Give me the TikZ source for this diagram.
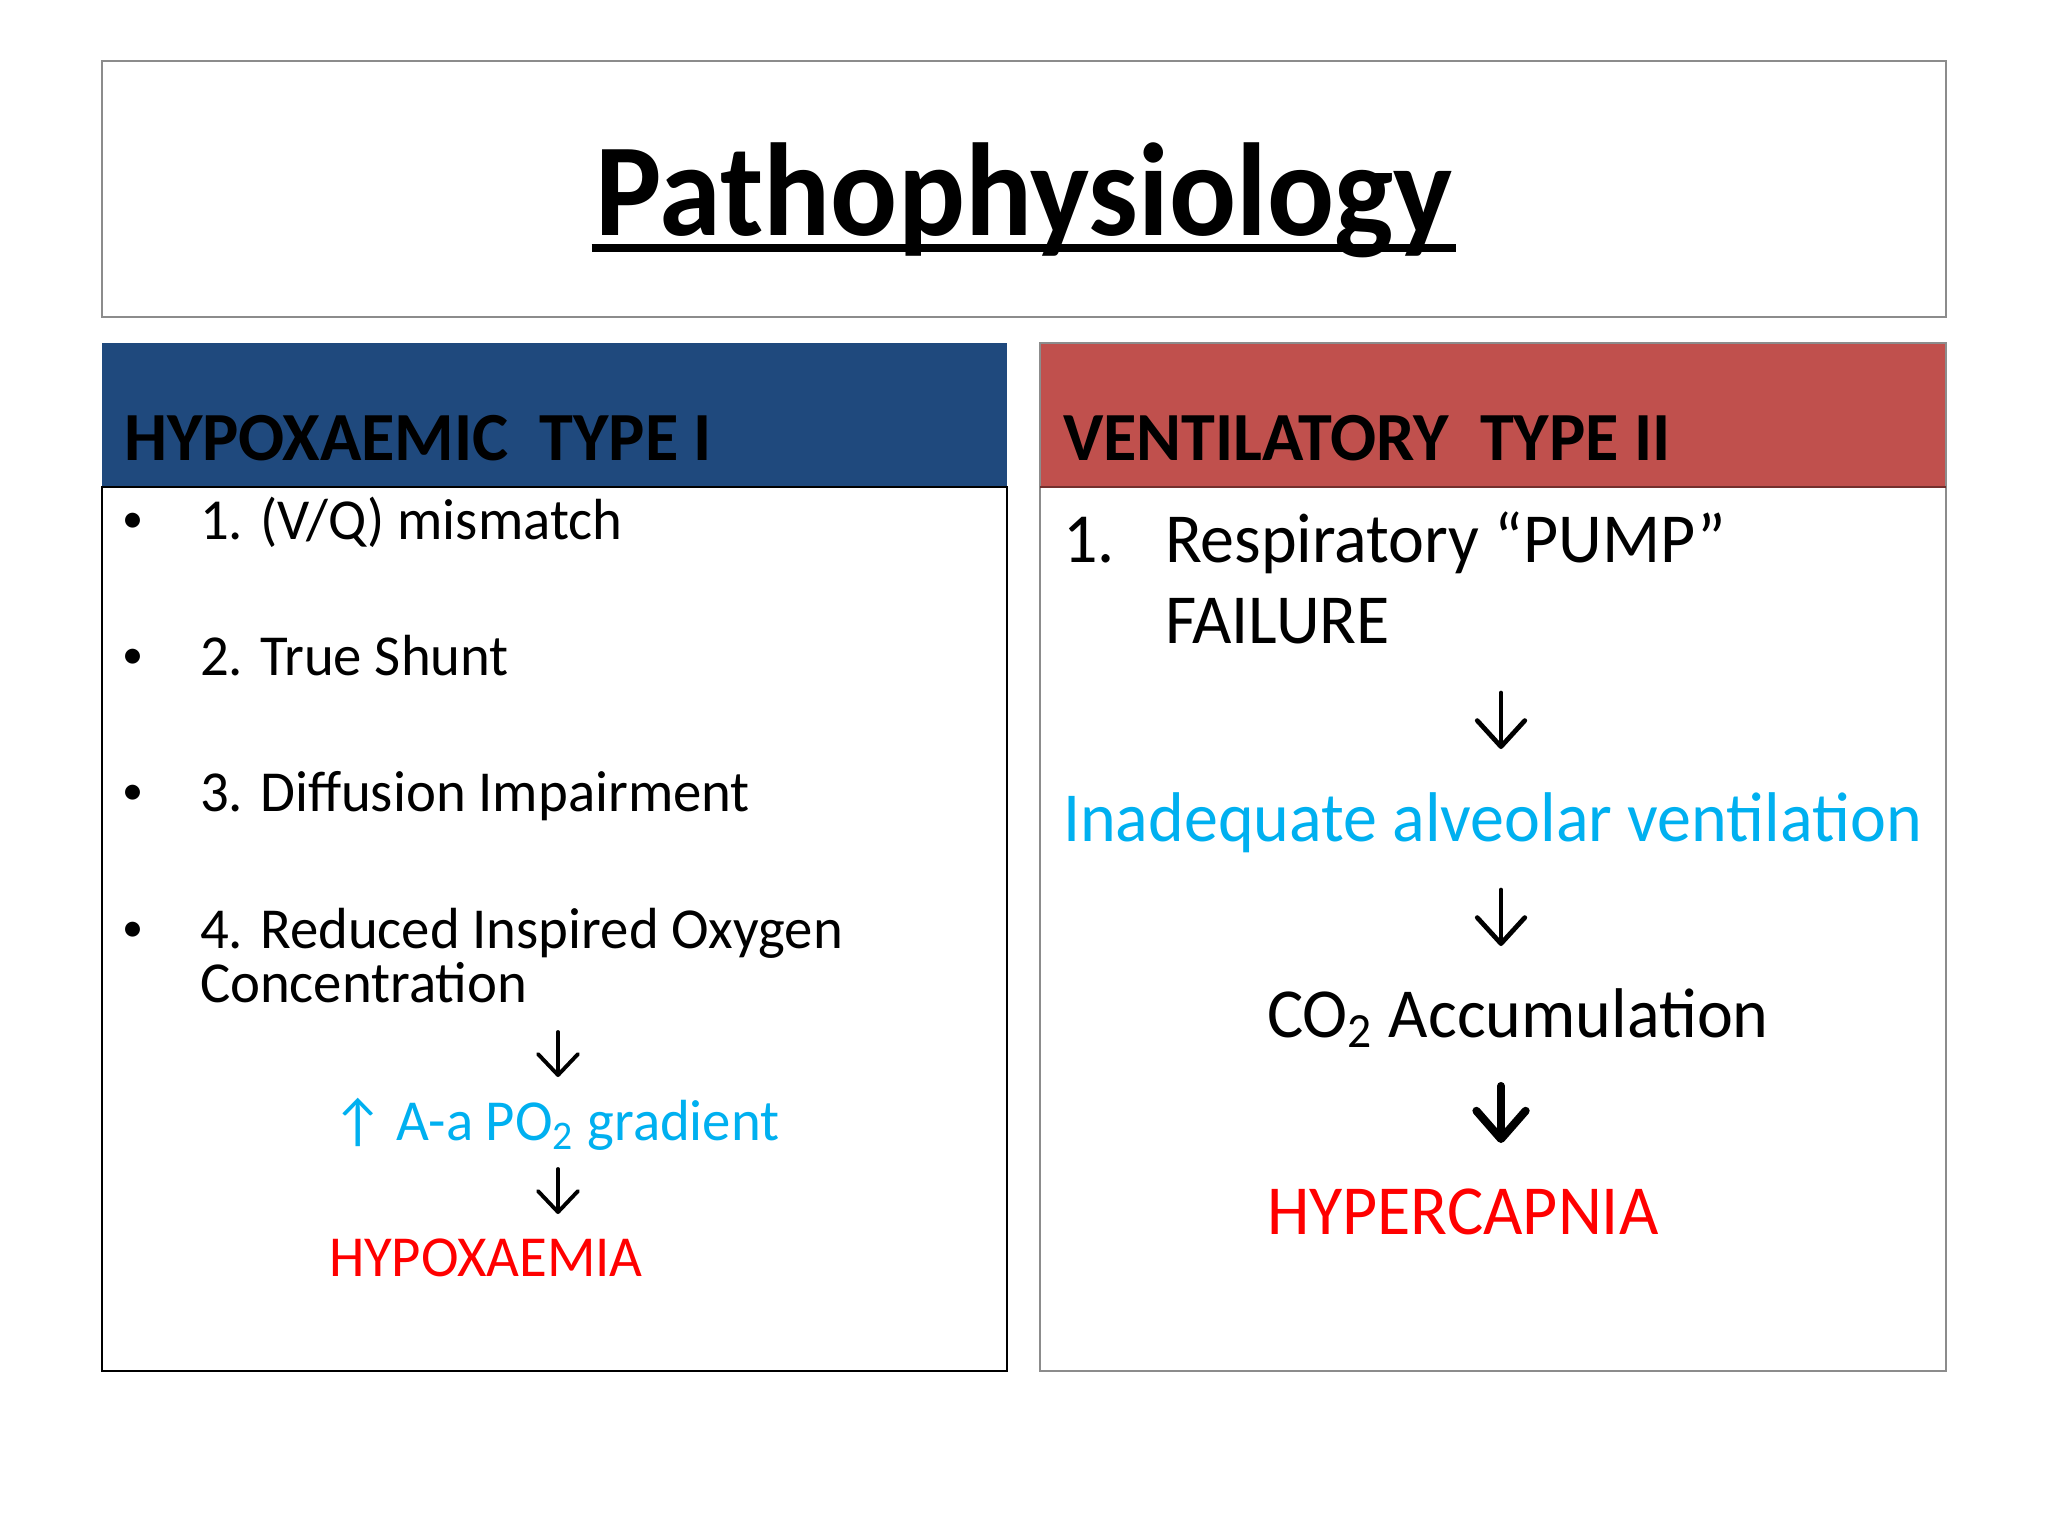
\documentclass[tikz,border=0pt]{standalone}
\usepackage{fontspec}
\setmainfont{Carlito}
\newfontfamily\titleF[FakeStretch=0.945]{Carlito}
\newfontfamily\hdrF[FakeStretch=0.99]{Carlito}
\newfontfamily\bodyL[FakeStretch=0.978]{Carlito}
\newfontfamily\bodyR[FakeStretch=0.967]{Carlito}
\usetikzlibrary{arrows.meta}
\definecolor{hdrblue}{HTML}{1F497D}
\definecolor{hdrred}{HTML}{C0504D}
\definecolor{cyantext}{HTML}{00B0F0}
\definecolor{redtext}{HTML}{FF0000}
\definecolor{boxgray}{HTML}{8C8C8C}
\begin{document}
\begin{tikzpicture}[x=0.01cm,y=-0.01cm,
  txt/.style={anchor=base west,inner sep=0pt,outer sep=0pt},
  lbody/.style={txt,font=\bodyL\fontsize{16.5}{19}\selectfont},
  bul/.style={txt,font=\fontsize{12}{14}\selectfont},
  rbody/.style={txt,font=\bodyR\fontsize{20}{24}\selectfont},
  hdrtxt/.style={txt,font=\hdrF\fontsize{19.6}{23}\selectfont\bfseries},
  arrL/.style={-{Straight Barb[length=6pt,width=11.4pt,round]},line width=1.1pt,line cap=round},
  arrR/.style={-{Straight Barb[length=7.4pt,width=13.5pt,round]},line width=1.35pt,line cap=round},
  barr/.style={-{Straight Barb[length=8pt,width=14pt,round]},line width=2.3pt,line cap=round}]
\useasboundingbox (0,0) rectangle (2048,1536);
\fill[white] (0,0) rectangle (2048,1536);
% title box
\draw[boxgray,line width=0.5pt] (102,61) rectangle (1946,317);
\node[anchor=base,inner sep=0pt,font=\titleF\fontsize{37.6}{42}\selectfont\bfseries] (title) at (1024,235) {Pathophysiology};
\draw[line width=2.2pt] ([yshift=-3.6pt,xshift=-1pt]title.base west) -- ([yshift=-3.6pt,xshift=1pt]title.base east);
% left column
\fill[hdrblue] (102,343) rectangle (1007,487);
\draw[line width=0.6pt] (102,487) rectangle (1007,1371);
\node[hdrtxt] (lh) at (124,460) {HYPOXAEMIC\ \ TYPE I};
\node[bul] (b1) at (122,532) {•};
\node[lbody] (l1) at (200,539) {1. (V/Q) mismatch};
\node[bul] (b2) at (122,668) {•};
\node[lbody] (l2) at (200,675) {2. True Shunt};
\node[bul] (b3) at (122,804) {•};
\node[lbody] (l3) at (200,811) {3. Diffusion Impairment};
\node[bul] (b4) at (122,941) {•};
\node[lbody] (l4) at (200,948) {4. Reduced Inspired Oxygen};
\node[lbody] (l4b) at (200,1002) {Concentration};
\node[lbody,text=cyantext] (grad) at (332,1140) {↑ A-a PO\textsubscript{2} gradient};
\node[lbody,text=redtext] (hypox) at (329,1276) {HYPOXAEMIA};
\coordinate (la1s) at (558,1032); \coordinate (la1e) at (558,1077);
\coordinate (la2s) at (558,1169); \coordinate (la2e) at (558,1214);
\draw[arrL] (la1s) -- (la1e);
\draw[arrL] (la2s) -- (la2e);
% right column
\fill[hdrred] (1040,343) rectangle (1946,487);
\draw[boxgray,line width=0.5pt] (1040,343) rectangle (1946,1371);
\draw[hdrred!60!black,line width=0.5pt] (1040,487) -- (1946,487);
\node[hdrtxt] (rh) at (1063,460) {VENTILATORY\ \ TYPE II};
\node[rbody] (r1n) at (1063,562) {1.};
\node[rbody] (r1) at (1165,562) {Respiratory “PUMP”};
\node[rbody] (r1b) at (1165,643) {FAILURE};
\node[rbody,text=cyantext] (inad) at (1063,841) {Inadequate alveolar ventilation};
\node[rbody] (co2) at (1267,1037) {CO\textsubscript{2} Accumulation};
\node[rbody,text=redtext] (hyper) at (1267,1234) {HYPERCAPNIA};
\coordinate (ra1s) at (1501,693); \coordinate (ra1e) at (1501,749);
\coordinate (ra2s) at (1501,890); \coordinate (ra2e) at (1501,946);
\coordinate (ra3s) at (1501,1086); \coordinate (ra3e) at (1501,1143);
\draw[arrR] (ra1s) -- (ra1e);
\draw[arrR] (ra2s) -- (ra2e);
\draw[barr] (ra3s) -- (ra3e);
\end{tikzpicture}
\end{document}
